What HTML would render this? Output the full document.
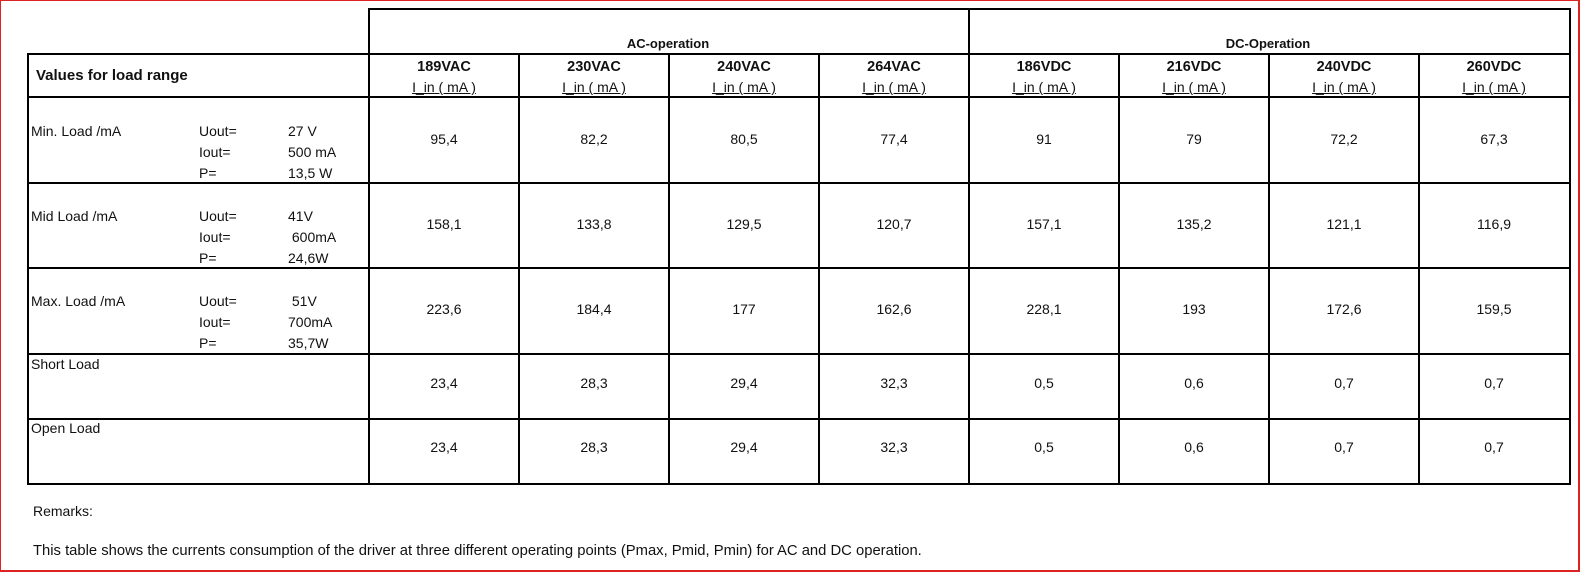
<!DOCTYPE html>
<html><head><meta charset="utf-8"><style>
*{margin:0;padding:0;box-sizing:border-box}
body{width:1580px;height:572px;background:#fff;position:relative;overflow:hidden;font-family:"Liberation Sans",sans-serif;font-size:14px;color:#111}
.frame{position:absolute;left:0;top:0;width:1580px;height:572px;border:1px solid #d22;border-bottom:2px solid #d22;border-right:2px solid #d22}
.h{position:absolute;height:2px;background:#000}
.v{position:absolute;width:2px;background:#000}
.t{position:absolute;white-space:nowrap}
.c{position:absolute;text-align:center;width:150px}
b{font-weight:bold;font-size:14.5px}
</style></head><body>
<div class="frame"></div>
<div class="h" style="left:368px;top:8px;width:1203px"></div>
<div class="h" style="left:27px;top:53px;width:1544px"></div>
<div class="h" style="left:27px;top:96px;width:1544px"></div>
<div class="h" style="left:27px;top:182px;width:1544px"></div>
<div class="h" style="left:27px;top:267px;width:1544px"></div>
<div class="h" style="left:27px;top:353px;width:1544px"></div>
<div class="h" style="left:27px;top:418px;width:1544px"></div>
<div class="h" style="left:27px;top:483px;width:1544px"></div>
<div class="v" style="left:27px;top:53px;height:432px"></div>
<div class="v" style="left:368px;top:8px;height:477px"></div>
<div class="v" style="left:968px;top:8px;height:477px"></div>
<div class="v" style="left:1569px;top:8px;height:477px"></div>
<div class="v" style="left:518px;top:53px;height:432px"></div>
<div class="v" style="left:668px;top:53px;height:432px"></div>
<div class="v" style="left:818px;top:53px;height:432px"></div>
<div class="v" style="left:1118px;top:53px;height:432px"></div>
<div class="v" style="left:1268px;top:53px;height:432px"></div>
<div class="v" style="left:1418px;top:53px;height:432px"></div>

<div class="t" style="left:368px;width:600px;text-align:center;top:36px;font-weight:bold;font-size:13px">AC-operation</div>
<div class="t" style="left:968px;width:600px;text-align:center;top:36px;font-weight:bold;font-size:13px">DC-Operation</div>
<div class="t" style="left:36px;top:67px;font-weight:bold;font-size:15px">Values for load range</div>

<div class="c" style="left:369px;top:56px;line-height:20px"><b>189VAC</b><br><u>I_in ( mA )</u></div>
<div class="c" style="left:519px;top:56px;line-height:20px"><b>230VAC</b><br><u>I_in ( mA )</u></div>
<div class="c" style="left:669px;top:56px;line-height:20px"><b>240VAC</b><br><u>I_in ( mA )</u></div>
<div class="c" style="left:819px;top:56px;line-height:20px"><b>264VAC</b><br><u>I_in ( mA )</u></div>
<div class="c" style="left:969px;top:56px;line-height:20px"><b>186VDC</b><br><u>I_in ( mA )</u></div>
<div class="c" style="left:1119px;top:56px;line-height:20px"><b>216VDC</b><br><u>I_in ( mA )</u></div>
<div class="c" style="left:1269px;top:56px;line-height:20px"><b>240VDC</b><br><u>I_in ( mA )</u></div>
<div class="c" style="left:1419px;top:56px;line-height:20px"><b>260VDC</b><br><u>I_in ( mA )</u></div>

<div class="t" style="left:31px;top:121px;line-height:21px">Min. Load /mA</div>
<div class="t" style="left:199px;top:121px;line-height:21px">Uout=<br>Iout=<br>P=</div>
<div class="t" style="left:288px;top:121px;line-height:21px">27 V<br>500 mA<br>13,5 W</div>
<div class="t" style="left:31px;top:206px;line-height:21px">Mid Load /mA</div>
<div class="t" style="left:199px;top:206px;line-height:21px">Uout=<br>Iout=<br>P=</div>
<div class="t" style="left:288px;top:206px;line-height:21px">41V<br>&nbsp;600mA<br>24,6W</div>
<div class="t" style="left:31px;top:291px;line-height:21px">Max. Load /mA</div>
<div class="t" style="left:199px;top:291px;line-height:21px">Uout=<br>Iout=<br>P=</div>
<div class="t" style="left:288px;top:291px;line-height:21px">&nbsp;51V<br>700mA<br>35,7W</div>
<div class="t" style="left:31px;top:356px">Short Load</div>
<div class="t" style="left:31px;top:420px">Open Load</div>

<div class="t" style="left:33px;top:503px">Remarks:</div>
<div class="t" style="left:33px;top:543px;font-size:14.8px">This table shows the currents consumption of the driver at three different operating points (Pmax, Pmid, Pmin) for AC and DC operation.</div>

<div class="c" style="left:369px;top:131px">95,4</div><div class="c" style="left:519px;top:131px">82,2</div><div class="c" style="left:669px;top:131px">80,5</div><div class="c" style="left:819px;top:131px">77,4</div><div class="c" style="left:969px;top:131px">91</div><div class="c" style="left:1119px;top:131px">79</div><div class="c" style="left:1269px;top:131px">72,2</div><div class="c" style="left:1419px;top:131px">67,3</div>
<div class="c" style="left:369px;top:216px">158,1</div><div class="c" style="left:519px;top:216px">133,8</div><div class="c" style="left:669px;top:216px">129,5</div><div class="c" style="left:819px;top:216px">120,7</div><div class="c" style="left:969px;top:216px">157,1</div><div class="c" style="left:1119px;top:216px">135,2</div><div class="c" style="left:1269px;top:216px">121,1</div><div class="c" style="left:1419px;top:216px">116,9</div>
<div class="c" style="left:369px;top:301px">223,6</div><div class="c" style="left:519px;top:301px">184,4</div><div class="c" style="left:669px;top:301px">177</div><div class="c" style="left:819px;top:301px">162,6</div><div class="c" style="left:969px;top:301px">228,1</div><div class="c" style="left:1119px;top:301px">193</div><div class="c" style="left:1269px;top:301px">172,6</div><div class="c" style="left:1419px;top:301px">159,5</div>
<div class="c" style="left:369px;top:375px">23,4</div><div class="c" style="left:519px;top:375px">28,3</div><div class="c" style="left:669px;top:375px">29,4</div><div class="c" style="left:819px;top:375px">32,3</div><div class="c" style="left:969px;top:375px">0,5</div><div class="c" style="left:1119px;top:375px">0,6</div><div class="c" style="left:1269px;top:375px">0,7</div><div class="c" style="left:1419px;top:375px">0,7</div>
<div class="c" style="left:369px;top:439px">23,4</div><div class="c" style="left:519px;top:439px">28,3</div><div class="c" style="left:669px;top:439px">29,4</div><div class="c" style="left:819px;top:439px">32,3</div><div class="c" style="left:969px;top:439px">0,5</div><div class="c" style="left:1119px;top:439px">0,6</div><div class="c" style="left:1269px;top:439px">0,7</div><div class="c" style="left:1419px;top:439px">0,7</div>
</body></html>
